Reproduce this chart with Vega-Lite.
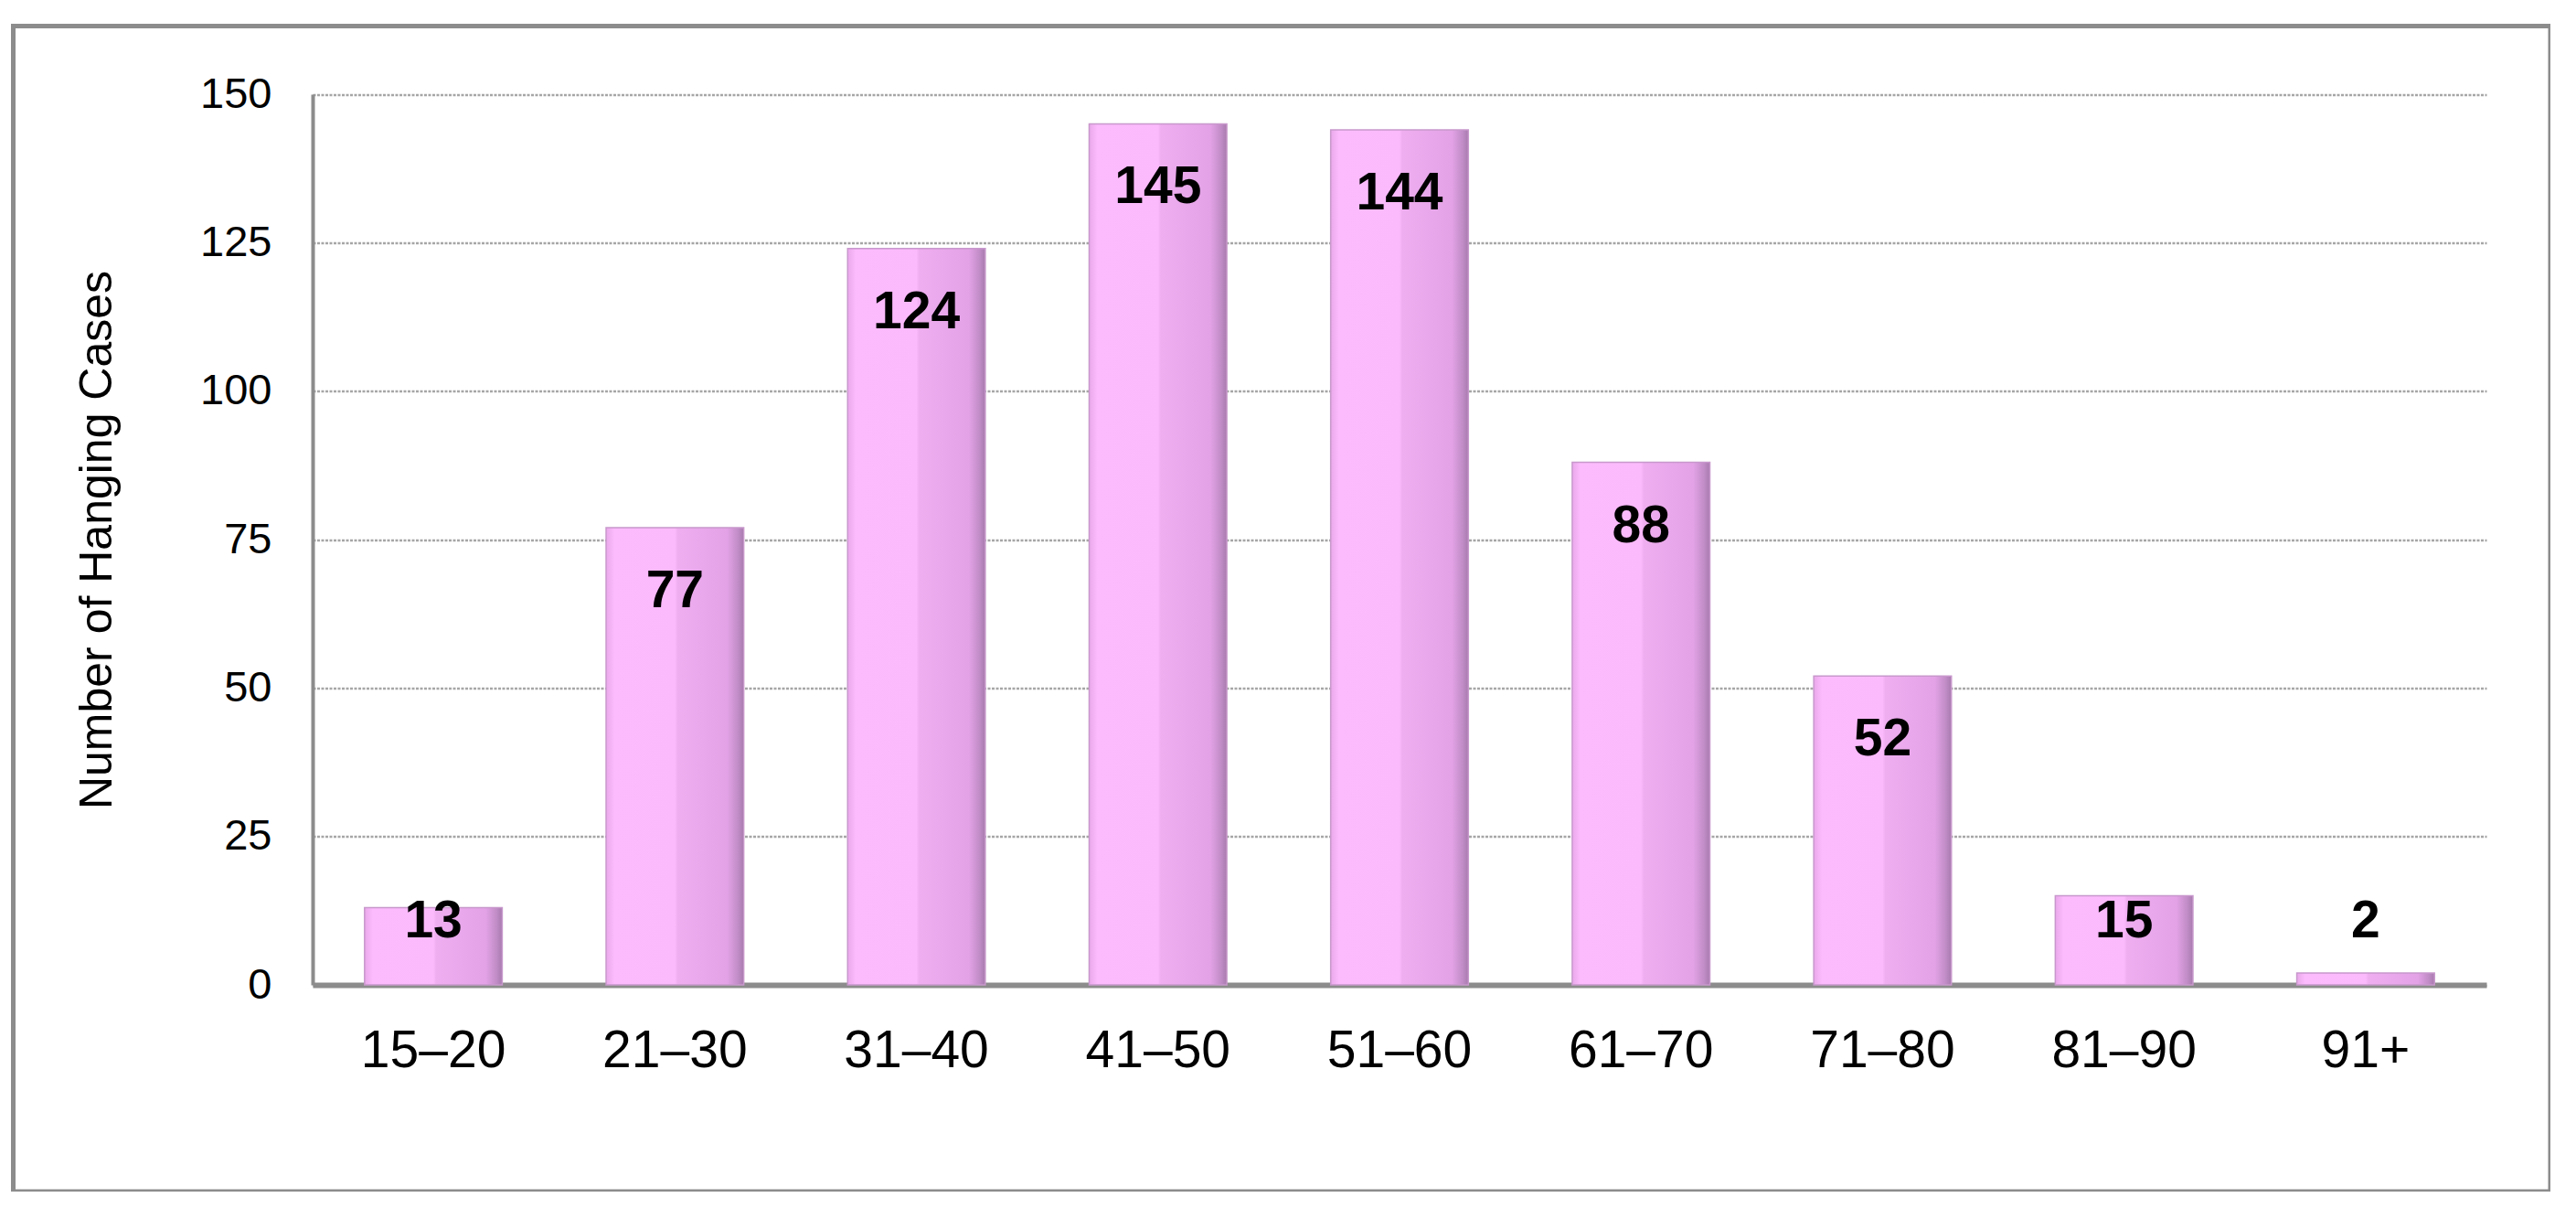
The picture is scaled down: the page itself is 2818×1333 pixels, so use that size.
{
  "$schema": "https://vega.github.io/schema/vega-lite/v6.json",
  "autosize": {"type": "none"},
  "padding": {"left": 14.5, "top": 28.5, "right": 0, "bottom": 0},
  "width": 2775.5,
  "height": 1274.5,
  "background": "white",
  "config": {
    "view": {"stroke": "#8c8c8c", "strokeWidth": 5, "fill": "white"},
    "font": "Liberation Sans",
    "axis": {"labelFont": "Liberation Sans", "titleFont": "Liberation Sans", "labelColor": "black", "titleColor": "black"}
  },
  "data": {
    "values": [
      {"age": "15–20", "cases": 13},
      {"age": "21–30", "cases": 77},
      {"age": "31–40", "cases": 124},
      {"age": "41–50", "cases": 145},
      {"age": "51–60", "cases": 144},
      {"age": "61–70", "cases": 88},
      {"age": "71–80", "cases": 52},
      {"age": "81–90", "cases": 15},
      {"age": "91+", "cases": 2}
    ]
  },
  "encoding": {
    "x": {
      "field": "age",
      "type": "nominal",
      "sort": null,
      "scale": {"range": [327.5, 2705.5], "paddingInner": 0.43, "paddingOuter": 0.215},
      "axis": {
        "title": null,
        "labelAngle": 0,
        "labelFontSize": 57,
        "labelPadding": 44,
        "ticks": false,
        "tickSize": 0,
        "domainColor": "#8c8c8c",
        "domainWidth": 6,
        "offset": -226,
        "grid": false
      }
    }
  },
  "layer": [
    {
      "mark": {
        "type": "bar",
        "stroke": "#c898cc",
        "strokeWidth": 1.5,
        "fill": {
          "gradient": "linear",
          "x1": 0, "y1": 0, "x2": 1, "y2": 0,
          "stops": [
            {"offset": 0, "color": "#e9a8ea"},
            {"offset": 0.06, "color": "#fbbbfc"},
            {"offset": 0.5, "color": "#fbbafb"},
            {"offset": 0.52, "color": "#efaef0"},
            {"offset": 0.88, "color": "#e3a2e6"},
            {"offset": 0.96, "color": "#c08cc6"},
            {"offset": 1, "color": "#a77aad"}
          ]
        }
      },
      "encoding": {
        "y": {
          "field": "cases",
          "type": "quantitative",
          "scale": {"domain": [0, 150], "range": [1048.5, 74.5], "nice": false, "zero": true},
          "axis": {
            "title": "Number of Hanging Cases",
            "titleFontSize": 50,
            "titleFontWeight": "normal",
            "titlePadding": 87,
            "values": [0, 25, 50, 75, 100, 125, 150],
            "labelFontSize": 47,
            "labelPadding": 45,
            "ticks": false,
            "tickSize": 0,
            "domainColor": "#8c8c8c",
            "domainWidth": 4,
            "offset": -327.5,
            "grid": true,
            "gridColor": "#a6a6a6",
            "gridWidth": 2.5,
            "gridDash": [3, 1.5]
          }
        }
      }
    },
    {
      "mark": {
        "type": "text",
        "fontSize": 57,
        "fontWeight": "bold",
        "color": "black",
        "baseline": "middle",
        "dy": 70
      },
      "encoding": {
        "text": {"field": "cases", "type": "quantitative"},
        "y": {
          "field": "cases",
          "type": "quantitative",
          "scale": {"domain": [21.4, 150], "range": [909.5, 74.5], "nice": false, "zero": false, "clamp": true},
          "axis": null
        }
      }
    }
  ],
  "resolve": {"scale": {"y": "independent"}}
}
